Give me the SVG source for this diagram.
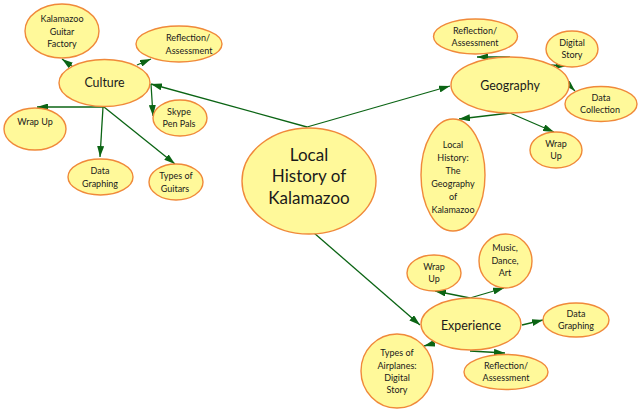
<svg xmlns="http://www.w3.org/2000/svg" width="640" height="412" viewBox="0 0 640 412">
<style>
text{font-family:"Lato","Noto Sans",sans-serif;fill:#1a1a1a;text-anchor:middle;font-size:9px}
.n ellipse{fill:#fff99a;stroke:#f0893a;stroke-width:1.4}
.m text{font-size:12.4px}
.b text{font-size:17px}
#connectors line{stroke:#0b6414;stroke-width:1.3;marker-end:url(#a)}
</style>
<defs><marker id="a" markerUnits="userSpaceOnUse" markerWidth="11" markerHeight="7" refX="11" refY="3.500" orient="auto"><path d="M0 0L11 3.500L0 7Z" fill="#0b6414"/></marker></defs>
<rect width="640" height="412" fill="#fff"/>
<g id="connectors">
<line x1="307" y1="127" x2="151" y2="84"/>
<line x1="307" y1="127" x2="450" y2="86"/>
<line x1="306" y1="226" x2="420" y2="325"/>
<line x1="73" y1="67" x2="62" y2="59"/>
<line x1="137" y1="65" x2="151" y2="59"/>
<line x1="151" y1="84" x2="153" y2="116"/>
<line x1="104" y1="107" x2="37" y2="107"/>
<line x1="103" y1="107" x2="100" y2="157"/>
<line x1="104" y1="107" x2="175" y2="164"/>
<line x1="510" y1="57" x2="477" y2="57"/>
<line x1="550" y1="65" x2="567" y2="66"/>
<line x1="569" y1="85" x2="575" y2="91"/>
<line x1="510" y1="113" x2="459" y2="119"/>
<line x1="510" y1="113" x2="554" y2="132"/>
<line x1="470" y1="298" x2="435" y2="291"/>
<line x1="470" y1="298" x2="504" y2="288"/>
<line x1="522" y1="325" x2="543" y2="320"/>
<line x1="470" y1="351" x2="505" y2="353"/>
<line x1="435" y1="343" x2="424" y2="346"/>
</g>
<g id="main" class="n b"><ellipse cx="309" cy="181" rx="67" ry="53"/><text x="309" y="161">Local</text><text x="309" y="182">History of</text><text x="309" y="204">Kalamazoo</text></g>
<g id="culture" class="n m"><ellipse cx="104.500" cy="83" rx="45.500" ry="23.500"/><text x="104.500" y="87">Culture</text></g>
<g id="guitar-factory" class="n"><ellipse cx="62" cy="31" rx="37" ry="27"/><text x="62" y="22">Kalamazoo</text><text x="62" y="35">Guitar</text><text x="62" y="47">Factory</text></g>
<g id="culture-reflection" class="n"><ellipse cx="179" cy="44" rx="43" ry="18"/><text x="188" y="41">Reflection/</text><text x="189" y="54">Assessment</text></g>
<g id="culture-wrap" class="n"><ellipse cx="35" cy="129" rx="31" ry="21"/><text x="35" y="125">Wrap Up</text></g>
<g id="skype" class="n"><ellipse cx="180" cy="118" rx="27" ry="18"/><text x="179" y="115">Skype</text><text x="179" y="127">Pen Pals</text></g>
<g id="culture-data" class="n"><ellipse cx="100.500" cy="177" rx="32.500" ry="18"/><text x="100" y="174">Data</text><text x="100" y="187">Graphing</text></g>
<g id="guitars" class="n"><ellipse cx="176" cy="182" rx="27" ry="18"/><text x="176" y="179">Types of</text><text x="175" y="192">Guitars</text></g>
<g id="geography" class="n m"><ellipse cx="510" cy="85" rx="59" ry="28"/><text x="510" y="90">Geography</text></g>
<g id="geo-reflection" class="n"><ellipse cx="475.500" cy="36.500" rx="42" ry="17.500"/><text x="475" y="34">Reflection/</text><text x="475" y="46">Assessment</text></g>
<g id="digital-story" class="n"><ellipse cx="572" cy="49" rx="26" ry="18"/><text x="572" y="46">Digital</text><text x="572" y="58">Story</text></g>
<g id="data-collection" class="n"><ellipse cx="601" cy="104" rx="36" ry="17.500"/><text x="601" y="101">Data</text><text x="600" y="113">Collection</text></g>
<g id="local-geo" class="n"><ellipse cx="453" cy="175" rx="32" ry="56"/><text x="453" y="148">Local</text><text x="453" y="161">History:</text><text x="453" y="174">The</text><text x="453" y="187">Geography</text><text x="453" y="200">of</text><text x="453" y="213">Kalamazoo</text></g>
<g id="geo-wrap" class="n"><ellipse cx="556" cy="150" rx="26" ry="18"/><text x="556" y="147">Wrap</text><text x="556" y="159">Up</text></g>
<g id="experience" class="n m"><ellipse cx="471" cy="324" rx="50" ry="26"/><text x="471" y="330">Experience</text></g>
<g id="exp-wrap" class="n"><ellipse cx="434" cy="273" rx="27" ry="18"/><text x="434" y="270">Wrap</text><text x="434" y="282">Up</text></g>
<g id="music" class="n"><ellipse cx="505.500" cy="261" rx="26.500" ry="27"/><text x="505" y="251">Music,</text><text x="505" y="264">Dance,</text><text x="505" y="276">Art</text></g>
<g id="exp-data" class="n"><ellipse cx="576" cy="320" rx="33" ry="17"/><text x="576" y="317">Data</text><text x="576" y="329">Graphing</text></g>
<g id="exp-reflection" class="n"><ellipse cx="506" cy="372" rx="42" ry="17.500"/><text x="506" y="369">Reflection/</text><text x="506" y="381">Assessment</text></g>
<g id="airplanes" class="n"><ellipse cx="397" cy="371" rx="36" ry="37"/><text x="397" y="356">Types of</text><text x="397" y="369">Airplanes:</text><text x="397" y="381">Digital</text><text x="397" y="393">Story</text></g>
</svg>
